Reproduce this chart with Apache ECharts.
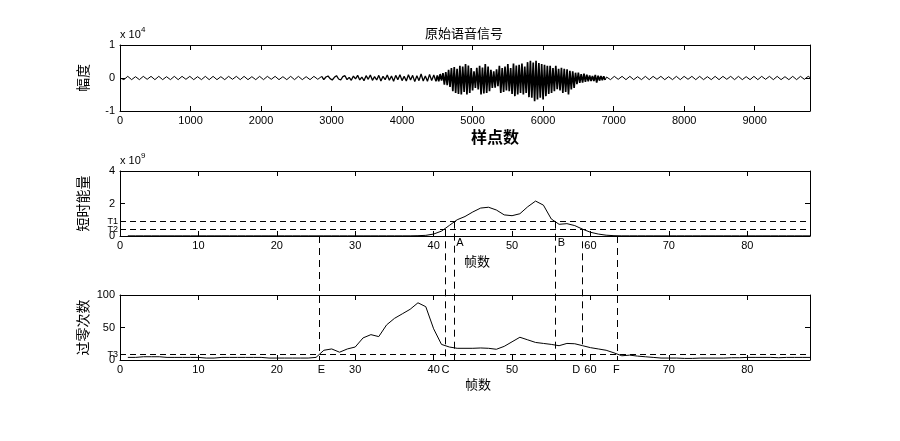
<!DOCTYPE html>
<html><head><meta charset="utf-8">
<script src="https://cdn.jsdelivr.net/npm/echarts@6/dist/echarts.min.js"></script>
<style>html,body{margin:0;padding:0;background:#fff}#c{width:900px;height:441px}</style>
</head><body><div id="c"></div>
<script>
// ---------- data ----------
// waveform, amplitude in units of 1e4; each segment sampled at a fixed step of samples
const sampleMax = 9785;
const quietAStart = 0, quietAStep = 55;
const quietA = [0.00,-0.05,0.05,-0.05,0.04,-0.05,0.05,-0.04,0.05,-0.05,
 0.05,-0.05,0.04,-0.05,0.05,-0.05,0.05,-0.04,0.05,-0.05,
 0.04,-0.05,0.05,-0.05,0.05,-0.05,0.04,-0.05,0.05,-0.04,
 0.05,-0.05,0.05,-0.05,0.04,-0.05,0.05,-0.05,0.05,-0.04,
 0.05,-0.05,0.04,-0.05,0.05,-0.05,0.05,-0.05,0.04,-0.05,
 0.05,-0.04,0.05];
const noisyStart = 2890, noisyStep = 30;
const noisy = [-0.05,0.03,0.06,-0.02,-0.06,0.02,0.07,-0.03,-0.06,0.04,
 0.07,-0.05,0.02,-0.07,0.06,-0.03,0.08,-0.06,0.03,-0.08,
 0.07,-0.04,0.09,-0.07,0.04,-0.06,0.08,-0.09,0.05,-0.05,
 0.09,-0.07,0.06,-0.10,0.08,-0.05,0.10,-0.08,0.05,-0.09,
 0.10,-0.06,0.08,-0.11,0.07,-0.08,0.12,-0.09,0.06,-0.10,
 0.11,-0.08,0.09,-0.10];
const speechStart = 4500, speechStep = 20;
const speech = [0.08,-0.10,0.12,-0.08,0.15,-0.20,0.18,-0.22,0.25,-0.27,
 0.30,-0.40,0.33,-0.45,0.28,-0.48,0.37,-0.50,0.35,-0.42,
 0.42,-0.50,0.38,-0.45,0.30,-0.38,0.20,-0.30,0.31,-0.35,
 0.37,-0.50,0.32,-0.47,0.42,-0.45,0.35,-0.40,0.25,-0.30,
 0.20,-0.29,0.26,-0.25,0.37,-0.45,0.30,-0.42,0.35,-0.38,
 0.42,-0.40,0.30,-0.48,0.44,-0.55,0.38,-0.50,0.40,-0.45,
 0.44,-0.50,0.35,-0.45,0.48,-0.58,0.52,-0.60,0.47,-0.70,
 0.52,-0.65,0.45,-0.60,0.42,-0.65,0.40,-0.55,0.37,-0.48,
 0.37,-0.45,0.30,-0.40,0.37,-0.34,0.28,-0.38,0.31,-0.45,
 0.28,-0.42,0.26,-0.50,0.22,-0.35,0.20,-0.30,0.16,-0.19,
 0.16,-0.15,0.12,-0.14,0.13,-0.12,0.10,-0.10,0.08,-0.09,
 0.06,-0.09,0.09,-0.14,0.07,-0.08,0.06,-0.07,0.05,-0.06];
const quietBStart = 6900, quietBStep = 55;
const quietB = [0.03,-0.05,0.05,-0.04,0.05,-0.05,0.05,-0.05,0.04,-0.05,
 0.05,-0.05,0.05,-0.04,0.05,-0.05,0.04,-0.05,0.05,-0.05,
 0.05,-0.04,0.05,-0.05,0.05,-0.05,0.04,-0.05,0.05,-0.05,
 0.05,-0.04,0.05,-0.05,0.05,-0.05,0.04,-0.05,0.05,-0.05,
 0.05,-0.04,0.05,-0.05,0.05,-0.05,0.04,-0.05,0.05,-0.05,
 0.05,-0.04,0.05,-0.03];

// short-time energy per frame (units of 1e9), frames 1..88
const energy = [0.01,0.01,0.01,0.01,0.01,0.01,0.01,0.01,0.01,0.01,
 0.01,0.01,0.01,0.01,0.01,0.01,0.01,0.01,0.01,0.01,
 0.01,0.01,0.01,0.01,0.01,0.01,0.01,0.01,0.01,0.01,
 0.01,0.01,0.01,0.01,0.01,0.01,0.01,
 0.02,0.04,0.12,
 0.30,0.65,1.00,1.20,1.48,1.72,1.77,1.60,1.30,1.25,
 1.37,1.80,2.15,1.90,1.05,0.72,0.76,0.64,0.42,0.23,
 0.12,0.05,0.02,0.01,0.01,0.01,0.01,0.01,0.01,0.01,
 0.01,0.01,0.01,0.01,0.01,0.01,0.01,0.01,0.01,0.01,
 0.01,0.01,0.01,0.01,0.01,0.01,0.01,0.01];
// zero-crossing count per frame, frames 1..88
const zcr = [4,4,5,5,5,4,4,4,4,4,
 3,3,4,4,4,4,4,4,3,3,
 3,3,3,3,4,
 15,17,12,17,20,
 34,39,36,54,64,71,78,88,82,48,
 24,20,18,18,18,18.5,18,16.5,21,28,
 35,31,27,25.5,24,22,25.5,25,22,19,
 17,15,11,6.5,7.5,6,5,4,3,3,
 3,2.5,2.5,3,3,3,3,3.5,3.5,4,
 4,4,4,3.5,4,4,4,4];
const frameMax = 88;
// thresholds
const T1 = 0.88, T2 = 0.41, T3 = 9;
// endpoint marker lines
const markNames   = ['E','C','A','B','D','F'];
const markFrames  = [25.4, 41.4, 42.6, 55.5, 58.9, 63.4];
const markStartAt = [0, T2, T1, T1, T2, 0];   // energy level where each line starts
const markInMid   = [false,false,true,true,false,false];
const markLabelFrames = [25.7, 41.5, 43.35, 56.3, 58.2, 63.3];

// ---------- chart ----------
const FONT = 'Liberation Sans';
const CJK = 'Noto Sans CJK SC';
function seg(start, step, vals){ return vals.map((v,i)=>[start+i*step, v]); }
const segA = seg(quietAStart,quietAStep,quietA);
const segN = seg(noisyStart,noisyStep,noisy);
const segS = seg(speechStart,speechStep,speech);
const segB = seg(quietBStart,quietBStep,quietB);
// each segment starts from the last point of the previous one so the trace is continuous
const segNc = [segA[segA.length-1]].concat(segN);
const segSc = [segN[segN.length-1]].concat(segS);
const segBc = [segS[segS.length-1]].concat(segB);
const eData = energy.map((v,i)=>[i+1, v]);
const zData = zcr.map((v,i)=>[i+1, v]);

const axLine = {show:true, onZero:false, lineStyle:{color:'#000', width:1}};
const tick = len => ({show:true, inside:true, length:len, lineStyle:{color:'#000', width:1}});
const lab = (extra) => Object.assign({color:'#000', fontSize:11, fontFamily:FONT, margin:4, showMinLabel:true,
  formatter: v => String(v)}, extra||{});

function xPair(grid, max, interval, name, nameStyle, nameGap){
  return [
    {gridIndex:grid, type:'value', min:0, max:max, interval:interval, position:'bottom',
     axisLine:axLine, axisTick:tick(5), splitLine:{show:false},
     axisLabel:lab({showMaxLabel:false}),
     name:name, nameLocation:'middle', nameGap:nameGap, nameMoveOverlap:false, nameTextStyle:nameStyle},
    {gridIndex:grid, type:'value', min:0, max:max, interval:interval, position:'top',
     axisLine:axLine, axisTick:tick(5), splitLine:{show:false}, axisLabel:{show:false}}
  ];
}
function yPair(grid, min, max, interval, name){
  return [
    {gridIndex:grid, type:'value', min:min, max:max, interval:interval, position:'left',
     axisLine:axLine, axisTick:tick(5), splitLine:{show:false},
     axisLabel:lab({margin:5, showMaxLabel:true}),
     name:name, nameLocation:'middle', nameGap:30, nameRotate:90, nameMoveOverlap:false,
     nameTextStyle:{color:'#000', fontSize:14, fontFamily:CJK}},
    {gridIndex:grid, type:'value', min:min, max:max, interval:interval, position:'right',
     axisLine:axLine, axisTick:tick(5), splitLine:{show:false}, axisLabel:{show:false}}
  ];
}
function sigSeries(data, w){
  return {type:'line', xAxisIndex:0, yAxisIndex:0, data:data, showSymbol:false, symbol:'none',
    lineStyle:{color:'#000', width:w}, sampling:null, silent:true};
}
const dashStyle = {color:'#000', width:1, type:[6,4]};

const option = {
  backgroundColor:'#fff',
  animation:false,
  title:{text:'原始语音信号', left:420, top:22, textStyle:{color:'#000', fontSize:13, fontWeight:'normal', fontFamily:CJK}},
  grid:[
    {left:120, right:90, top:45, height:66, outerBoundsMode:'none', containLabel:false},
    {left:120, right:90, top:171, height:65, outerBoundsMode:'none', containLabel:false},
    {left:120, right:90, top:295, height:65, outerBoundsMode:'none', containLabel:false}
  ],
  xAxis:[].concat(
    xPair(0, sampleMax, 1000, '样点数', {color:'#000', fontSize:16, fontWeight:'bold', fontFamily:CJK, padding:[0,0,0,60]}, 18),
    xPair(1, frameMax, 10, '帧数', {color:'#000', fontSize:13, fontFamily:CJK, padding:[0,0,0,24]}, 19),
    xPair(2, frameMax, 10, '帧数', {color:'#000', fontSize:13, fontFamily:CJK, padding:[0,0,0,26]}, 18)
  ),
  yAxis:[].concat(
    yPair(0, -1, 1, 1, '幅度'),
    yPair(1, 0, 4, 2, '短时能量'),
    yPair(2, 0, 100, 50, '过零次数')
  ),
  series:[
    sigSeries(segA, 1),
    sigSeries(segNc, 1.3),
    sigSeries(segSc, 1.7),
    sigSeries(segBc, 1),
    {type:'line', xAxisIndex:2, yAxisIndex:2, data:eData, showSymbol:false, symbol:'none',
     lineStyle:{color:'#000', width:1}, silent:true,
     markLine:{symbol:'none', silent:true, animation:false, lineStyle:dashStyle,
       label:{show:true, position:'start', distance:2, fontSize:9, fontFamily:FONT, color:'#000'},
       emphasis:{disabled:true},
       data:[{yAxis:T1, label:{formatter:'T1', padding:[0,0,5,0]}}, {yAxis:T2, label:{formatter:'T2'}}]}},
    {type:'line', xAxisIndex:4, yAxisIndex:4, data:zData, showSymbol:false, symbol:'none',
     lineStyle:{color:'#000', width:1}, silent:true,
     markLine:{symbol:'none', silent:true, animation:false, lineStyle:dashStyle,
       label:{show:true, position:'start', distance:2, fontSize:9, fontFamily:FONT, color:'#000'},
       emphasis:{disabled:true},
       data:[{yAxis:T3, label:{formatter:'T3', padding:[0,0,10,0]}}]}}
  ]
};

const chart = echarts.init(document.getElementById('c'), null, {renderer:'canvas'});
chart.setOption(option);

// second pass: marks that span two grids, placed through the axes' own conversion
const midAxisY = chart.convertToPixel({xAxisIndex:2, yAxisIndex:2}, [0, 0])[1];
const botAxisY = chart.convertToPixel({xAxisIndex:4, yAxisIndex:4}, [0, 0])[1];

const g = [];
markFrames.forEach((f, i) => {
  const top = chart.convertToPixel({xAxisIndex:2, yAxisIndex:2}, [f, markStartAt[i]]);
  const x = Math.round(top[0]) + 0.5;
  g.push({type:'line', z:100, silent:true, shape:{x1:x, y1:top[1], x2:x, y2:botAxisY},
    style:{stroke:'#000', lineWidth:1, lineDash:[7,5]}});
});
function expLabel(xIdx, yIdx, maxVal, exp){
  const p = chart.convertToPixel({xAxisIndex:xIdx, yAxisIndex:yIdx}, [0, maxVal]);
  g.push({type:'text', x:p[0], y:p[1]-10, silent:true,
    style:{text:'x 10', fill:'#000', font:'11px "'+FONT+'"', align:'left', verticalAlign:'middle'}});
  g.push({type:'text', x:p[0]+21, y:p[1]-15, silent:true,
    style:{text:exp, fill:'#000', font:'8px "'+FONT+'"', align:'left', verticalAlign:'middle'}});
}
expLabel(0, 0, 1, '4');
expLabel(2, 2, 4, '9');
markNames.forEach((n, i) => {
  const lx = chart.convertToPixel({xAxisIndex:2, yAxisIndex:2}, [markLabelFrames[i], 0])[0];
  const ly = markInMid[i] ? midAxisY + 7 : botAxisY + 10;
  g.push({type:'text', x:lx, y:ly, z:100, silent:true,
    style:{text:n, fill:'#000', font:'11px "'+FONT+'"', align:'center', verticalAlign:'middle'}});
});
chart.setOption({graphic:g});
</script>
</body></html>
